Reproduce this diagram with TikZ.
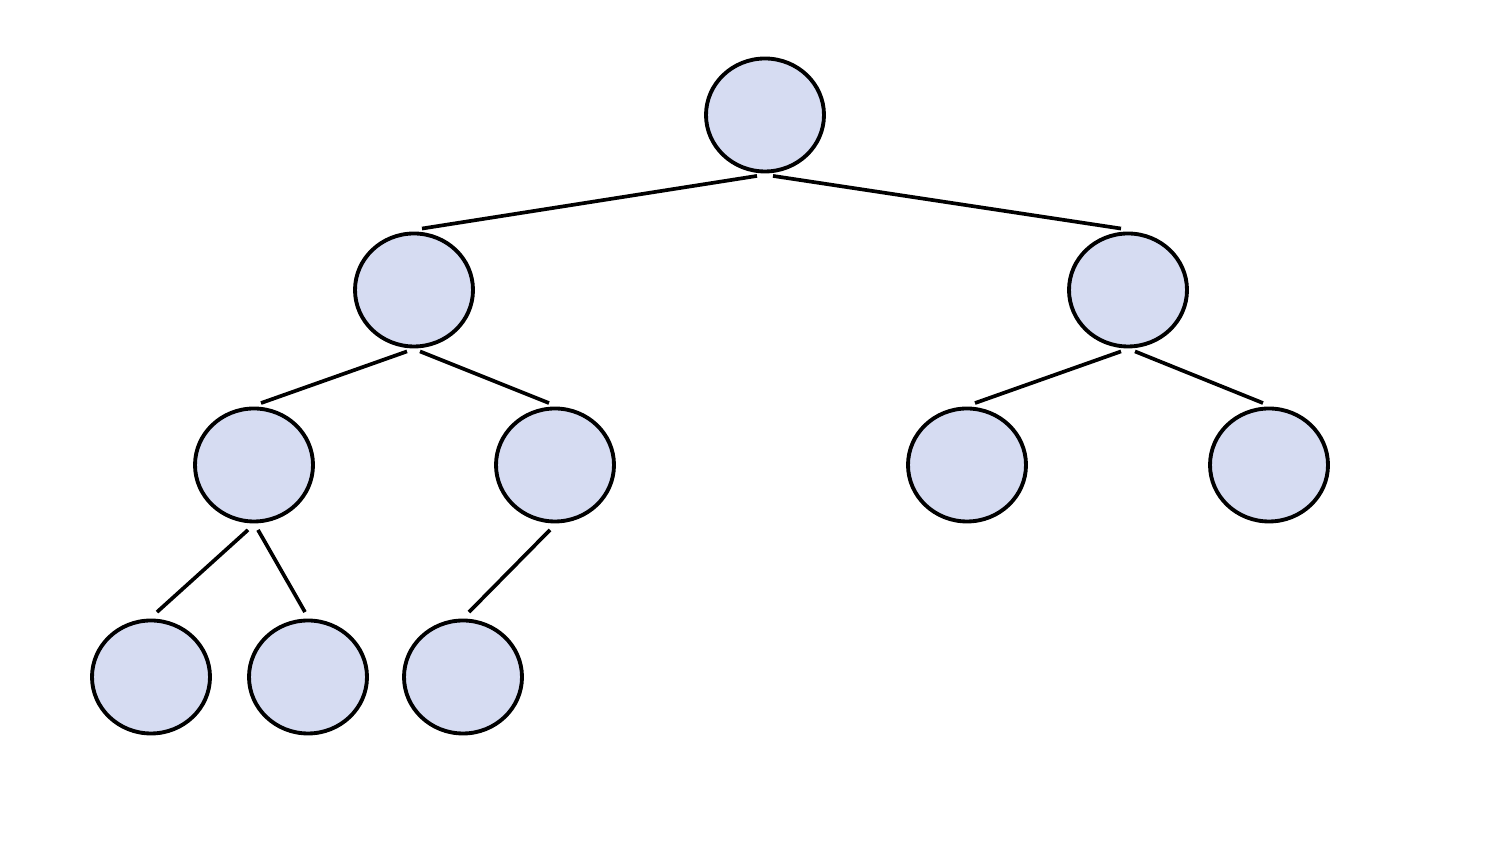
\documentclass[tikz,border=0pt]{standalone}
\usepackage{tikz}
\usetikzlibrary{shapes,calc,positioning}
\definecolor{nodeblue}{RGB}{214,220,242}

\begin{document}
\begin{tikzpicture}[
    treenode/.style={ellipse, draw=black, fill=nodeblue, line width=2.2pt,
        inner sep=0pt, minimum width=2.36cm, minimum height=2.26cm},
    treeedge/.style={line width=2.1pt}]
                \useasboundingbox (0,0) rectangle (30.22,17.3);
                % nodes
                \node[treenode] (root) at (15.30,15.00) {};
                \node[treenode] (l)    at (8.28,11.50)  {};
                \node[treenode] (r)    at (22.56,11.50) {};
                \node[treenode] (ll)   at (5.08,8.00)   {};
                \node[treenode] (lr)   at (11.10,8.00)  {};
                \node[treenode] (rl)   at (19.34,8.00)  {};
                \node[treenode] (rr)   at (25.38,8.00)  {};
                \node[treenode] (lll)  at (3.02,3.76)   {};
                \node[treenode] (llr)  at (6.16,3.76)   {};
                \node[treenode] (lrl)  at (9.26,3.76)   {};
                % edges
                \draw[treeedge] ($(root.south)+(-0.16,-0.05)$) -- ($(l.north)+(0.16,0.06)$);
                \draw[treeedge] ($(root.south)+(0.16,-0.05)$)  -- ($(r.north)+(-0.14,0.06)$);
                \draw[treeedge] ($(l.south)+(-0.14,-0.06)$)    -- ($(ll.north)+(0.14,0.07)$);
                \draw[treeedge] ($(l.south)+(0.12,-0.06)$)     -- ($(lr.north)+(-0.12,0.07)$);
                \draw[treeedge] ($(r.south)+(-0.14,-0.06)$)    -- ($(rl.north)+(0.16,0.07)$);
                \draw[treeedge] ($(r.south)+(0.14,-0.06)$)     -- ($(rr.north)+(-0.12,0.07)$);
                \draw[treeedge] ($(ll.south)+(-0.12,-0.13)$)   -- ($(lll.north)+(0.12,0.13)$);
                \draw[treeedge] ($(ll.south)+(0.08,-0.13)$)    -- ($(llr.north)+(-0.06,0.13)$);
                \draw[treeedge] ($(lr.south)+(-0.10,-0.13)$)   -- ($(lrl.north)+(0.12,0.13)$);
            \end{tikzpicture}
\end{document}
